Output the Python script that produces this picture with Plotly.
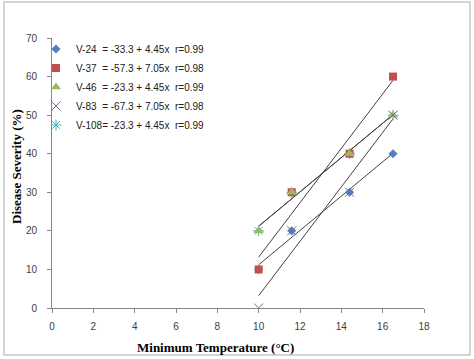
import plotly.graph_objects as go

# Data
temps = [10, 11.6, 14.4, 16.5]
series_names = ["V-24", "V-37", "V-46", "V-83", "V-108"]
v24 = [10, 20, 30, 40]
v37 = [10, 30, 40, 60]
v46 = [20, 30, 40, 50]
v83 = [0, 20, 30, 50]
v108 = [20, 30, 40, 50]
intercepts = [-33.3, -57.3, -23.3, -67.3, -23.3]
slopes = [4.45, 7.05, 4.45, 7.05, 4.45]
r_values = [0.99, 0.98, 0.99, 0.98, 0.99]
x_ticks = [0, 2, 4, 6, 8, 10, 12, 14, 16, 18]
y_ticks = [0, 10, 20, 30, 40, 50, 60, 70]

values = [v24, v37, v46, v83, v108]
colors = ["#4F81BD", "#C0504D", "#9BBB59", "#8064A2", "#4BACC6"]
symbols = ["diamond", "square", "triangle-up", "x-thin-open", "asterisk-open"]
sizes = [7, 8, 9, 9, 9]
draw_order = [4, 0, 1, 2, 3]
nb = "\u00a0"

fig = go.Figure()

# trendlines
xr = [min(temps), max(temps)]
for a, b in zip(intercepts, slopes):
    fig.add_trace(go.Scatter(x=xr, y=[a + b * x for x in xr], mode="lines",
                             line=dict(color="#404040", width=1), showlegend=False,
                             hoverinfo="skip"))

for i in draw_order:
    name = series_names[i]
    sep = nb + nb + "=" + nb if name != "V-108" else "=" + nb
    eq = f"{intercepts[i]} + {slopes[i]:.2f}x"
    label = f"{name}{sep}{eq.replace(' ', nb)}{nb}{nb}r={r_values[i]:.2f}"
    ms = symbols[i]
    mk = dict(symbol=ms, size=sizes[i], color=colors[i])
    if "open" in ms:
        mk["line"] = dict(color=colors[i], width=1)
    fig.add_trace(go.Scatter(x=temps, y=values[i], mode="markers", name=label,
                             marker=mk, legendrank=1000 + i))

fig.update_layout(
    width=474, height=359,
    margin=dict(l=52, r=50, t=38, b=51),
    paper_bgcolor="white", plot_bgcolor="white",
    font=dict(family="Liberation Sans", size=10, color="#404040"),
    legend=dict(x=-0.043, y=1.013, xanchor="left", yanchor="top",
                bgcolor="rgba(0,0,0,0)", font=dict(size=10, color="#202020"),
                itemwidth=30),
    xaxis=dict(range=[0, 18], tickvals=x_ticks, showgrid=False, zeroline=False,
               showline=True, linecolor="#868686", linewidth=1,
               ticks="outside", ticklen=4, tickcolor="#868686", ticklabelstandoff=5),
    yaxis=dict(range=[0, 70], tickvals=y_ticks, showgrid=False, zeroline=False,
               showline=True, linecolor="#868686", linewidth=1,
               ticks="outside", ticklen=4, tickcolor="#868686", ticklabelstandoff=8),
    annotations=[
        dict(text="<b>Minimum Temperature (°C)</b>", xref="paper", yref="paper",
             x=(215 - 52) / 372, y=-(347 - 308) / 270, xanchor="center", yanchor="middle",
             showarrow=False, font=dict(family="Liberation Serif", size=13, color="black")),
        dict(text="<b>Disease Severity (%)</b>", xref="paper", yref="paper",
             x=-(52 - 16) / 372, y=(308 - 167) / 270, xanchor="center", yanchor="middle",
             textangle=-90, showarrow=False,
             font=dict(family="Liberation Serif", size=13, color="black")),
    ],
    shapes=[dict(type="rect", xref="paper", yref="paper",
                 x0=-(52 - 4) / 372, x1=(470 - 52) / 372,
                 y0=-(355 - 308) / 270, y1=(308 - 2) / 270,
                 line=dict(color="#C8C8C8", width=1.5))],
)

fig.write_html("out.html", config={"displayModeBar": False},
               post_script="document.body.style.margin='0';document.body.style.overflow='hidden';")
